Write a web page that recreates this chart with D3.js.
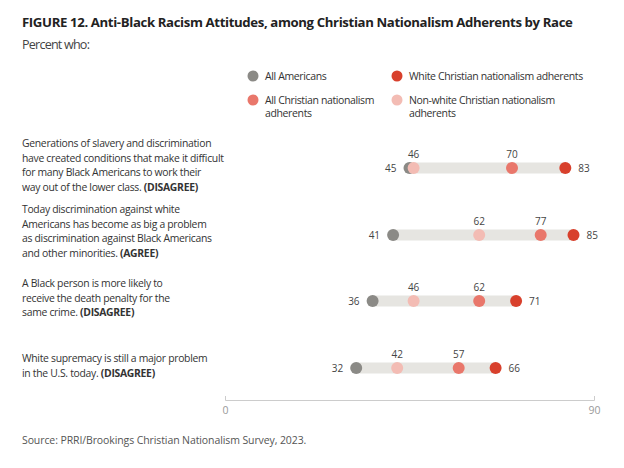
<!DOCTYPE html>
<html>
<head>
<meta charset="utf-8">
<script src="https://cdn.jsdelivr.net/npm/d3@7"></script>
<style>
  body { margin: 0; background: #fff; }
  svg { font-family: 'Open Sans', sans-serif; }
</style>
</head>
<body>
<svg width="624" height="468"></svg>
<script>
'use strict';

// Data
const statements = [
  ['Generations of slavery and discrimination', 'have created conditions that make it difficult', 'for many Black Americans to work their', 'way out of the lower class. |(DISAGREE)'],
  ['Today discrimination against white', 'Americans has become as big a problem', 'as discrimination against Black Americans', 'and other minorities. |(AGREE)'],
  ['A Black person is more likely to', 'receive the death penalty for the', 'same crime. |(DISAGREE)'],
  ['White supremacy is still a major problem', 'in the U.S. today. |(DISAGREE)'],
];
const seriesNames = ['All Americans', 'White Christian nationalism adherents', 'All Christian nationalism adherents', 'Non-white Christian nationalism adherents'];
const allAmericans = [45, 41, 36, 32];
const whiteCN = [83, 85, 71, 66];
const allCN = [70, 77, 62, 57];
const nonwhiteCN = [46, 62, 46, 42];
const xTicks = [0, 90];

const colors = {
  'All Americans': '#8b8a86',
  'White Christian nationalism adherents': '#d8402c',
  'All Christian nationalism adherents': '#e9776b',
  'Non-white Christian nationalism adherents': '#f3bcb4',
};

const svg = d3.select('svg');
const textColor = '#333';

// Title
svg.append('text').attr('x', 22).attr('y', 27)
  .attr('font-size', 13.2).attr('font-weight', 700).attr('fill', '#222')
  .attr('letter-spacing', -0.37)
  .text('FIGURE 12. Anti-Black Racism Attitudes, among Christian Nationalism Adherents by Race');
svg.append('text').attr('x', 22).attr('y', 49)
  .attr('font-size', 12.6).attr('fill', '#444').attr('letter-spacing', -0.8)
  .text('Percent who:');

// Legend
const legend = [
  { name: seriesNames[0], x: 253, y: 76, lines: ['All Americans'] },
  { name: seriesNames[1], x: 397, y: 76, lines: ['White Christian nationalism adherents'] },
  { name: seriesNames[2], x: 253, y: 100, lines: ['All Christian nationalism', 'adherents'] },
  { name: seriesNames[3], x: 397, y: 100, lines: ['Non-white Christian nationalism', 'adherents'] },
];
const lg = svg.append('g').attr('class', 'legend');
legend.forEach(l => {
  lg.append('circle').attr('cx', l.x).attr('cy', l.y).attr('r', 5.5).attr('fill', colors[l.name]);
  l.lines.forEach((t, i) => {
    lg.append('text').attr('x', l.x + 12).attr('y', l.y + 4 + i * 13)
      .attr('font-size', 10.5).attr('fill', textColor).attr('letter-spacing', -0.37).text(t);
  });
});

// Scales
const x = d3.scaleLinear().domain([0, 90]).range([225, 594]);
const rowY = [168, 235, 301, 368];
const labelTop = [147, 213, 287, 362];

// Statement labels
statements.forEach((lines, r) => {
  lines.forEach((line, i) => {
    const t = svg.append('text').attr('x', 22).attr('y', labelTop[r] + i * 14.6)
      .attr('font-size', 10.4).attr('fill', textColor).attr('letter-spacing', -0.3);
    const parts = line.split('|');
    t.append('tspan').text(parts[0]);
    if (parts[1]) t.append('tspan').attr('font-weight', 700).text(parts[1]);
  });
});

// Rows
const rows = rowY.map((y, r) => ({
  y,
  values: [
    { name: seriesNames[0], v: allAmericans[r] },
    { name: seriesNames[3], v: nonwhiteCN[r] },
    { name: seriesNames[2], v: allCN[r] },
    { name: seriesNames[1], v: whiteCN[r] },
  ],
}));

const g = svg.append('g').attr('class', 'rows');
rows.forEach(row => {
  const lo = d3.min(row.values, d => d.v);
  const hi = d3.max(row.values, d => d.v);
  g.append('rect')
    .attr('x', x(lo)).attr('y', row.y - 5.5)
    .attr('width', x(hi) - x(lo)).attr('height', 11)
    .attr('fill', '#e6e5e1');

  row.values.forEach(d => {
    g.append('circle').attr('cx', x(d.v)).attr('cy', row.y).attr('r', 6)
      .attr('fill', colors[d.name]);

    let lx = x(d.v), ly = row.y - 10, anchor = 'middle';
    if (d.v === lo) { lx = x(d.v) - 13; ly = row.y + 4; anchor = 'end'; }
    else if (d.v === hi) { lx = x(d.v) + 13; ly = row.y + 4; anchor = 'start'; }
    g.append('text').attr('x', lx).attr('y', ly).attr('text-anchor', anchor)
      .attr('font-size', 10).attr('fill', '#444').text(d.v);
  });
});

// Axis
const axis = svg.append('g').attr('transform', 'translate(0,400)')
  .call(d3.axisBottom(x).tickValues(xTicks).tickSize(-4).tickPadding(7));
axis.select('.domain').attr('stroke', '#ccc');
axis.selectAll('.tick line').attr('stroke', '#ccc');
axis.selectAll('.tick text').attr('fill', '#999').attr('font-size', 10.5)
  .attr('font-family', "'Open Sans', sans-serif");

// Source
svg.append('text').attr('x', 22).attr('y', 444)
  .attr('font-size', 10.5).attr('fill', '#555').attr('letter-spacing', -0.1)
  .text('Source: PRRI/Brookings Christian Nationalism Survey, 2023.');
</script>
</body>
</html>
